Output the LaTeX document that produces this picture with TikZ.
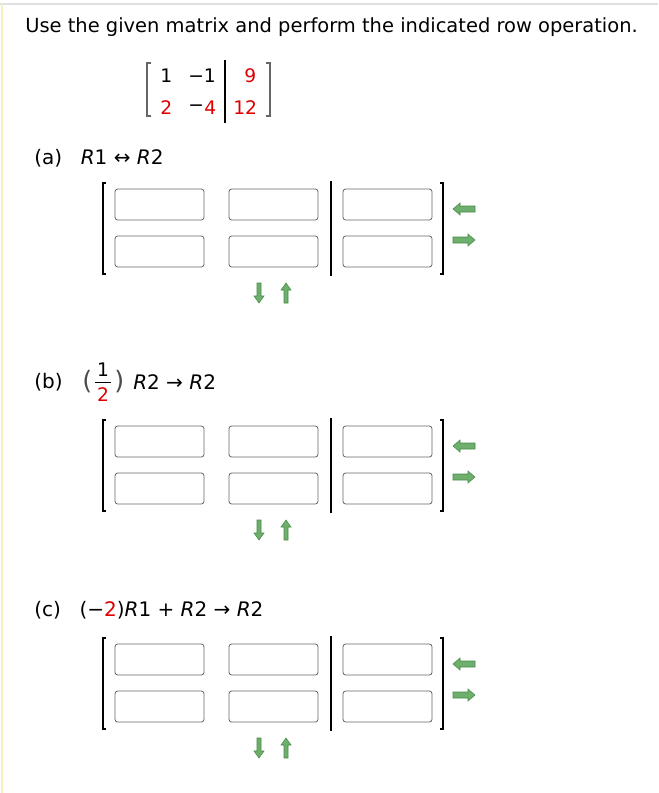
\documentclass[tikz,border=0pt]{standalone}
\usepackage{fontspec}
\setmainfont{DejaVu Sans}
\definecolor{rd}{RGB}{220,0,0}
\definecolor{ylw}{RGB}{245,240,190}
\definecolor{gfill}{RGB}{110,175,110}
\definecolor{gdraw}{RGB}{70,140,70}
\begin{document}
\begin{tikzpicture}[x=0.75pt,y=-0.75pt,
  inbox/.style={draw=black!60,rounded corners=2pt,line width=0.6pt},
  txt/.style={anchor=west,inner sep=0pt,font=\fontsize{14}{16}\selectfont},
  lbl/.style={anchor=west,inner sep=0pt,font=\fontsize{15}{17}\selectfont},
  garrow/.style={fill=gfill,draw=gdraw,line width=0.4pt}]
\useasboundingbox (0,0) rectangle (658,793);
\fill[white] (0,0) rectangle (658,793);
\draw[black!12,line width=1pt] (0,4) -- (658,4);
\draw[ylw,line width=1.5pt] (2,4) -- (2,793);
\node[txt,font=\fontsize{14.6}{16}\selectfont] (title) at (25,27) {Use the given matrix and perform the indicated row operation.};
% top matrix
\draw[black!60,line width=0.8pt] (151,63) -- (147,63) -- (147,116) -- (151,116);
\draw[black!60,line width=0.8pt] (266,63) -- (270,63) -- (270,116) -- (266,116);
\draw[line width=0.8pt] (225,60) -- (225,123);
\node[txt] (m11) at (160,76) {1};
\node[txt] (m12) at (188,76) {−1};
\node[txt,text=rd] (m13) at (244,76) {9};
\node[txt,text=rd] (m21) at (160,108) {2};
\node[txt] (m22) at (188,108) {−};
\node[txt,text=rd] (m22b) at (204,108) {4};
\node[txt,text=rd] (m23) at (233,108) {12};
% labels
\node[lbl] (la) at (34,158) {(a)\hspace{14pt}\textit{R}1 ↔ \textit{R}2};
\node[lbl] (lb) at (34,382) {(b)};
\node[txt,font=\fontsize{19}{20}\selectfont,text=black!70] (lbl) at (82,382) {(};
\node[txt,font=\fontsize{19}{20}\selectfont,text=black!70] (lbr2) at (114,382) {)};
\node[inner sep=0pt,font=\fontsize{14}{16}\selectfont] (lbn) at (103,370) {1};
\node[inner sep=0pt,font=\fontsize{14}{16}\selectfont,text=rd] (lbd) at (103,395) {2};
\draw[line width=0.6pt] (95,382.5) -- (111,382.5);
\node[lbl] (lbr) at (133,382) {\textit{R}2 → \textit{R}2};
\node[lbl] (lc) at (34,610) {(c)\hspace{14pt}(−\textcolor{rd}{2})\textit{R}1 + \textit{R}2 → \textit{R}2};
% blocks
\foreach \n/\dy in {a/0,b/237,c/455}{
 \begin{scope}[yshift=-0.75*\dy pt]
  \draw[line width=0.8pt] (106,183) -- (103,183) -- (103,274) -- (106,274);
  \draw[line width=0.8pt] (440,183) -- (443,183) -- (443,274) -- (440,274);
  \draw[line width=0.8pt] (331,181) -- (331,276);
  \foreach \x in {115,229,343}{
    \draw[inbox] (\x,189) rectangle ++(89,31);
    \draw[inbox] (\x,236) rectangle ++(89,31);
  }
  \draw[garrow] (453,209) -- (460,203) -- (460,206) -- (475,206) -- (475,212) -- (460,212) -- (460,215) -- cycle;
  \draw[garrow] (475,240) -- (468,234) -- (468,237) -- (453,237) -- (453,243) -- (468,243) -- (468,246) -- cycle;
  \draw[garrow] (259,303) -- (254,296) -- (257,296) -- (257,283) -- (261,283) -- (261,296) -- (264,296) -- cycle;
  \draw[garrow] (286,283) -- (281,290) -- (284,290) -- (284,303) -- (288,303) -- (288,290) -- (291,290) -- cycle;
 \end{scope}}
\end{tikzpicture}
\end{document}
